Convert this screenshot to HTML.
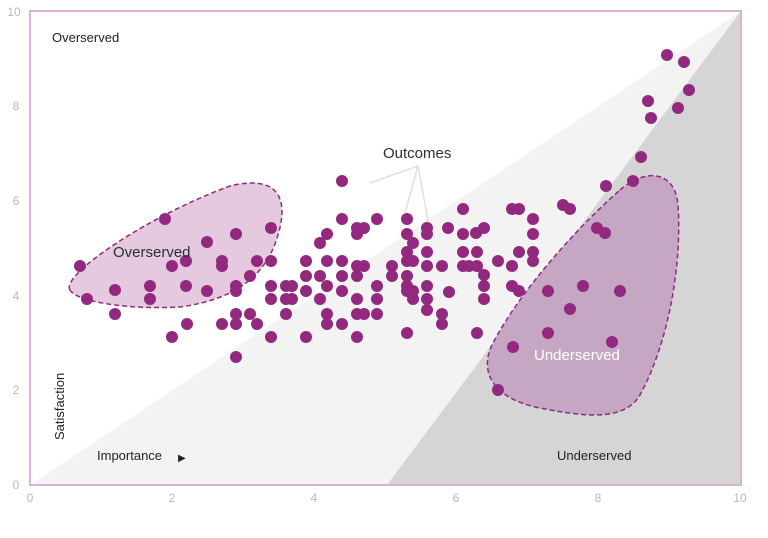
<!DOCTYPE html>
<html><head><meta charset="utf-8"><style>
html,body{margin:0;padding:0;background:#fff;width:768px;height:538px;overflow:hidden}
svg{display:block;font-family:"Liberation Sans",sans-serif}
</style></head><body>
<svg width="768" height="538" viewBox="0 0 768 538">
<polygon points="30,485 741,11 741,485" fill="#f3f3f3"/>
<polygon points="387,485 741,11 741,485" fill="#d5d5d5"/>
<rect x="30" y="11" width="711" height="474" fill="none" stroke="#d8b2da" stroke-width="2"/>
<path d="M70,290 C60,275 150,215 230,186 C275,175 290,195 278,235 C265,280 230,300 180,307 C120,310 75,300 70,290 Z" fill="#e4c9df" stroke="#8e2a7f" stroke-width="1.5" stroke-dasharray="5,3"/>
<path d="M620,190 C645,168 675,170 678,205 C682,260 670,340 640,395 C625,420 590,418 540,408 C490,398 480,370 492,345 C520,290 580,225 620,190 Z" fill="#c5a7c3" stroke="#8e2a7f" stroke-width="1.5" stroke-dasharray="5,3"/>
<g stroke="#e0e0e0" stroke-width="1.5" fill="none"><path d="M370,183 L418,166 L403,220 M418,166 L430,232"/></g>
<g fill="#93297f">
<circle cx="80" cy="266" r="6"/><circle cx="87" cy="299" r="6"/><circle cx="115" cy="290" r="6"/><circle cx="115" cy="314" r="6"/><circle cx="150" cy="286" r="6"/><circle cx="150" cy="299" r="6"/><circle cx="165" cy="219" r="6"/><circle cx="172" cy="337" r="6"/><circle cx="172" cy="266" r="6"/><circle cx="186" cy="286" r="6"/><circle cx="186" cy="261" r="6"/><circle cx="187" cy="324" r="6"/><circle cx="207" cy="242" r="6"/><circle cx="207" cy="291" r="6"/><circle cx="222" cy="261" r="6"/><circle cx="222" cy="266" r="6"/><circle cx="222" cy="324" r="6"/><circle cx="236" cy="234" r="6"/><circle cx="236" cy="286" r="6"/><circle cx="236" cy="291" r="6"/><circle cx="236" cy="314" r="6"/><circle cx="236" cy="324" r="6"/><circle cx="236" cy="357" r="6"/><circle cx="250" cy="276" r="6"/><circle cx="250" cy="314" r="6"/><circle cx="257" cy="261" r="6"/><circle cx="257" cy="324" r="6"/><circle cx="271" cy="228" r="6"/><circle cx="271" cy="261" r="6"/><circle cx="271" cy="286" r="6"/><circle cx="271" cy="299" r="6"/><circle cx="271" cy="337" r="6"/><circle cx="286" cy="286" r="6"/><circle cx="286" cy="299" r="6"/><circle cx="286" cy="314" r="6"/><circle cx="292" cy="299" r="6"/><circle cx="292" cy="286" r="6"/><circle cx="306" cy="261" r="6"/><circle cx="306" cy="276" r="6"/><circle cx="306" cy="291" r="6"/><circle cx="306" cy="337" r="6"/><circle cx="320" cy="299" r="6"/><circle cx="320" cy="276" r="6"/><circle cx="320" cy="243" r="6"/><circle cx="327" cy="234" r="6"/><circle cx="327" cy="261" r="6"/><circle cx="327" cy="286" r="6"/><circle cx="327" cy="314" r="6"/><circle cx="327" cy="324" r="6"/><circle cx="342" cy="181" r="6"/><circle cx="342" cy="219" r="6"/><circle cx="342" cy="261" r="6"/><circle cx="342" cy="276" r="6"/><circle cx="342" cy="291" r="6"/><circle cx="342" cy="324" r="6"/><circle cx="357" cy="228" r="6"/><circle cx="357" cy="234" r="6"/><circle cx="357" cy="266" r="6"/><circle cx="357" cy="276" r="6"/><circle cx="357" cy="299" r="6"/><circle cx="357" cy="314" r="6"/><circle cx="357" cy="337" r="6"/><circle cx="364" cy="228" r="6"/><circle cx="364" cy="266" r="6"/><circle cx="364" cy="314" r="6"/><circle cx="377" cy="219" r="6"/><circle cx="377" cy="286" r="6"/><circle cx="377" cy="299" r="6"/><circle cx="377" cy="314" r="6"/><circle cx="392" cy="266" r="6"/><circle cx="392" cy="276" r="6"/><circle cx="407" cy="219" r="6"/><circle cx="407" cy="234" r="6"/><circle cx="407" cy="252" r="6"/><circle cx="407" cy="261" r="6"/><circle cx="407" cy="276" r="6"/><circle cx="407" cy="286" r="6"/><circle cx="407" cy="291" r="6"/><circle cx="407" cy="333" r="6"/><circle cx="413" cy="243" r="6"/><circle cx="413" cy="261" r="6"/><circle cx="413" cy="291" r="6"/><circle cx="413" cy="299" r="6"/><circle cx="427" cy="228" r="6"/><circle cx="427" cy="234" r="6"/><circle cx="427" cy="252" r="6"/><circle cx="427" cy="266" r="6"/><circle cx="427" cy="286" r="6"/><circle cx="427" cy="299" r="6"/><circle cx="427" cy="310" r="6"/><circle cx="442" cy="266" r="6"/><circle cx="442" cy="314" r="6"/><circle cx="442" cy="324" r="6"/><circle cx="448" cy="228" r="6"/><circle cx="449" cy="292" r="6"/><circle cx="463" cy="209" r="6"/><circle cx="463" cy="234" r="6"/><circle cx="463" cy="266" r="6"/><circle cx="463" cy="252" r="6"/><circle cx="469" cy="266" r="6"/><circle cx="476" cy="233" r="6"/><circle cx="477" cy="252" r="6"/><circle cx="477" cy="266" r="6"/><circle cx="477" cy="333" r="6"/><circle cx="484" cy="228" r="6"/><circle cx="484" cy="275" r="6"/><circle cx="484" cy="299" r="6"/><circle cx="484" cy="286" r="6"/><circle cx="498" cy="261" r="6"/><circle cx="512" cy="209" r="6"/><circle cx="512" cy="266" r="6"/><circle cx="519" cy="209" r="6"/><circle cx="533" cy="219" r="6"/><circle cx="533" cy="234" r="6"/><circle cx="533" cy="252" r="6"/><circle cx="533" cy="261" r="6"/><circle cx="512" cy="286" r="6"/><circle cx="519" cy="291" r="6"/><circle cx="519" cy="252" r="6"/>
<circle cx="548" cy="291" r="6"/><circle cx="570" cy="309" r="6"/><circle cx="583" cy="286" r="6"/><circle cx="548" cy="333" r="6"/><circle cx="513" cy="347" r="6"/><circle cx="612" cy="342" r="6"/><circle cx="620" cy="291" r="6"/><circle cx="498" cy="390" r="6"/><circle cx="563" cy="205" r="6"/><circle cx="570" cy="209" r="6"/><circle cx="597" cy="228" r="6"/><circle cx="605" cy="233" r="6"/><circle cx="606" cy="186" r="6"/><circle cx="641" cy="157" r="6"/><circle cx="633" cy="181" r="6"/><circle cx="651" cy="118" r="6"/><circle cx="678" cy="108" r="6"/><circle cx="689" cy="90" r="6"/><circle cx="667" cy="55" r="6"/><circle cx="684" cy="62" r="6"/><circle cx="648" cy="101" r="6"/>
</g>
<g font-size="13" fill="#222">
<text x="52" y="42">Overserved</text>
<text x="557" y="460">Underserved</text>
<text x="97" y="460">Importance</text>
<text x="178" y="461" font-size="10">▶</text>
<text transform="translate(64,440) rotate(-90)">Satisfaction</text>
</g>
<text x="113" y="257" font-size="15" fill="#2a2f36">Overserved</text>
<text x="534" y="360" font-size="15" fill="#fff">Underserved</text>
<text x="383" y="158" font-size="15" fill="#2a2f36">Outcomes</text>
<g font-size="12" fill="#b8b8b8" text-anchor="middle">
<text x="30" y="502">0</text><text x="172" y="502">2</text><text x="314" y="502">4</text><text x="456" y="502">6</text><text x="598" y="502">8</text><text x="740" y="502">10</text>
<text x="16" y="489">0</text><text x="16" y="394">2</text><text x="16" y="300">4</text><text x="16" y="205">6</text><text x="16" y="110">8</text><text x="14" y="16">10</text>
</g>
</svg>
</body></html>
